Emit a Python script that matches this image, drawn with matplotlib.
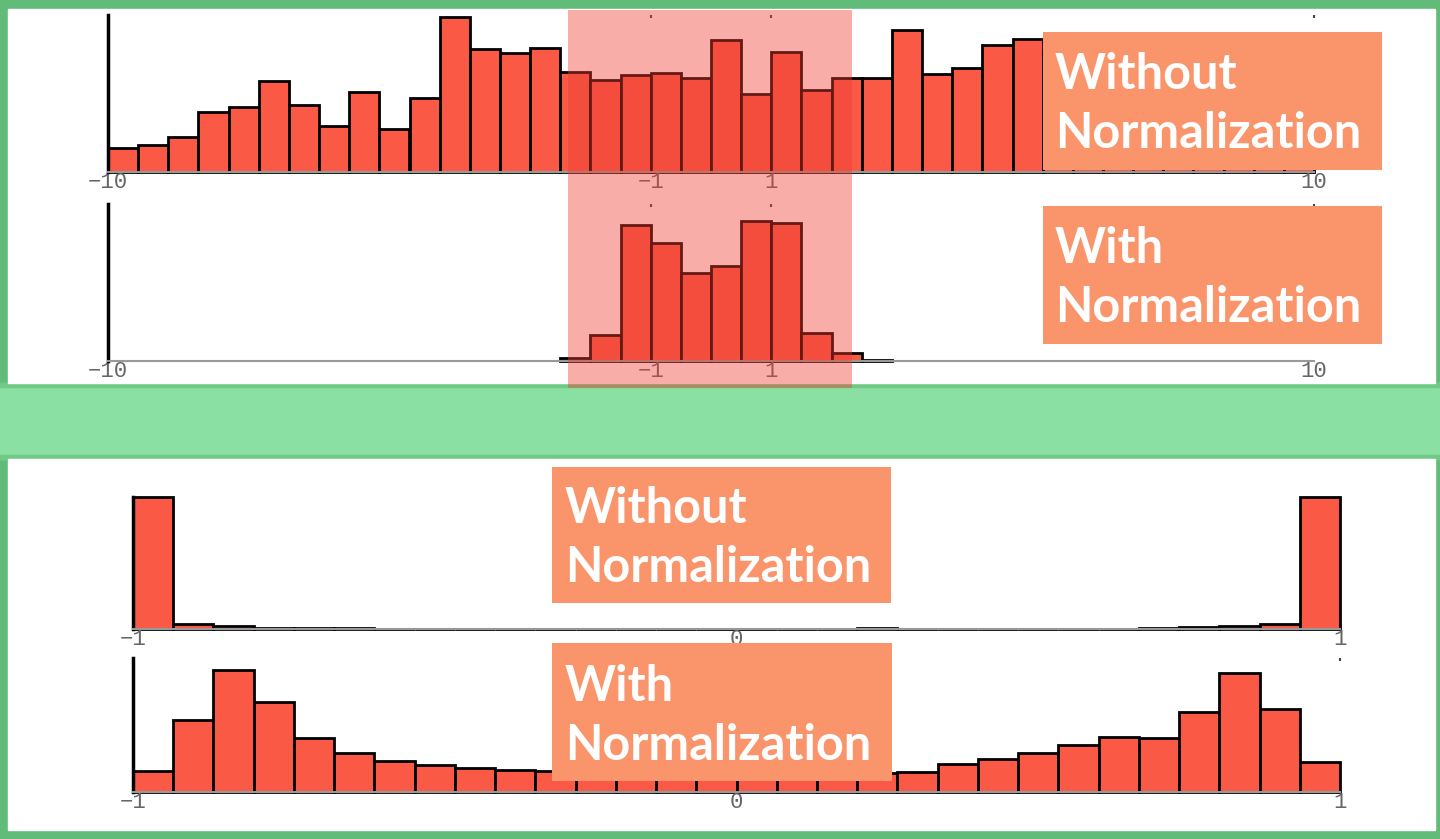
import numpy as np
import matplotlib
matplotlib.use("Agg")
import matplotlib.pyplot as plt
from matplotlib.patches import Rectangle

W, H = 1440, 839

# histogram counts, bins of 0.5 on [-10, 10]
raw_edges = np.arange(-10, 10.01, 0.5)
raw_counts = [24, 27, 35, 60, 65, 91, 67, 46, 80, 43, 74, 155, 123, 119, 124, 100,
              92, 97, 99, 94, 132, 78, 120, 82, 94, 94, 142, 98, 104, 127, 133,
              118, 96, 110, 88, 102, 80, 94, 72, 85]
norm_counts = [0] * 15 + [3, 26, 136, 118, 88, 95, 140, 138, 28, 8, 1.5] + [0] * 14
raw_ticks = [-10, -1, 1, 10]
raw_ticklabels = ["\u221210", "\u22121", "1", "10"]

# histogram counts, 30 bins on [-1, 1]
act_edges = np.linspace(-1, 1, 31)
act_raw = [132, 5, 3, 1.5, 0.8, 0.6, 0.5, 0.5, 0.5, 0.5, 0.5, 0.5, 0.5, 0.5, 0.5,
           0.5, 0.5, 0.5, 1.5, 0.5, 0.5, 0.5, 0.5, 0.5, 0.5, 0.8, 2.5, 3, 5, 132]
act_norm = [21, 72, 122, 90, 54, 39, 31, 27, 24, 22, 21, 20, 19, 18, 18, 18, 18, 19,
            19, 20, 28, 33, 39, 47, 55, 54, 80, 119, 83, 30]
act_ticks = [-1, 0, 1]
act_ticklabels = ["\u22121", "0", "1"]

labels = ["Without\nNormalization", "With\nNormalization"]

BAR = "#fa5a45"
BOX = "#fa956b"

fig = plt.figure(figsize=(W / 100, H / 100), dpi=100)
fig.patch.set_facecolor("#60bc78")


def frac_rect(x0, y0, x1, y1, **kw):
    # pixel box (top-left origin) -> figure-fraction rectangle
    return Rectangle((x0 / W, 1 - y1 / H), (x1 - x0) / W, (y1 - y0) / H,
                     transform=fig.transFigure, **kw)


# background panels
fig.add_artist(frac_rect(0, 383, W, 459, color="#8ae0a2", zorder=-3))
fig.add_artist(frac_rect(0, 383, W, 387, color="#70ca86", zorder=-2))
fig.add_artist(frac_rect(0, 455, W, 459, color="#70ca86", zorder=-2))
fig.add_artist(frac_rect(8, 9, 1435, 383, color="white", zorder=-1))
fig.add_artist(frac_rect(8, 459, 1435, 830, color="white", zorder=-1))


def hist_axes(x0, x1, ytop, ybot, edges, counts, ymax, ticks, ticklabels):
    ax = fig.add_axes([x0 / W, 1 - ybot / H, (x1 - x0) / W, (ybot - ytop) / H])
    ax.set_facecolor("none")
    counts = np.asarray(counts, dtype=float)
    keep = counts > 0
    widths = np.diff(edges)
    ax.bar(edges[:-1][keep], counts[keep], width=widths[keep], align="edge",
           color=BAR, edgecolor="black", linewidth=2.0, clip_on=False)
    ax.set_xlim(edges[0], edges[-1])
    ax.set_ylim(0, ymax)
    for s in ["top", "right"]:
        ax.spines[s].set_visible(False)
    ax.spines["left"].set_linewidth(2.5)
    ax.spines["bottom"].set_color("#999999")
    ax.spines["bottom"].set_linewidth(1.5)
    ax.set_yticks([])
    ax.set_xticks(ticks)
    ax.set_xticklabels(ticklabels, family="Liberation Mono", fontsize=16,
                       color="#666666")
    ax.tick_params(axis="x", length=0, pad=0)
    sec = ax.secondary_xaxis("top")
    sec.set_xticks(ticks)
    sec.set_xticklabels([])
    sec.spines["top"].set_visible(False)
    sec.tick_params(length=2, width=1.5, color="#444444", direction="in")
    return ax


hist_axes(108, 1314, 15, 172, raw_edges, raw_counts, 157, raw_ticks, raw_ticklabels)
hist_axes(108, 1314, 204, 361, raw_edges, norm_counts, 157, raw_ticks, raw_ticklabels)
hist_axes(133, 1340, 497, 629, act_edges, act_raw, 132, act_ticks, act_ticklabels)
hist_axes(133, 1340, 658, 792, act_edges, act_norm, 134, act_ticks, act_ticklabels)

# highlighted region over the top histograms
fig.add_artist(frac_rect(568, 10, 852, 388, color=(0.94, 0.24, 0.2), alpha=0.42,
                         linewidth=0, zorder=3))

# label boxes
boxes = [(1043, 32, 1382, 170, 1055, 104, labels[0]),
         (1043, 206, 1382, 344, 1055, 278, labels[1]),
         (552, 467, 891, 603, 565, 538, labels[0]),
         (552, 643, 892, 781, 565, 716, labels[1])]
for x0, y0, x1, y1, tx, ty, txt in boxes:
    fig.add_artist(frac_rect(x0, y0, x1, y1, color=BOX, linewidth=0, zorder=4))
    fig.text(tx / W, 1 - ty / H, txt, family="Lato", fontweight="bold",
             fontsize=35, color="white", ha="left", va="center",
             linespacing=1.38, zorder=5)

fig.savefig("out.png", dpi=100, facecolor=fig.get_facecolor())
